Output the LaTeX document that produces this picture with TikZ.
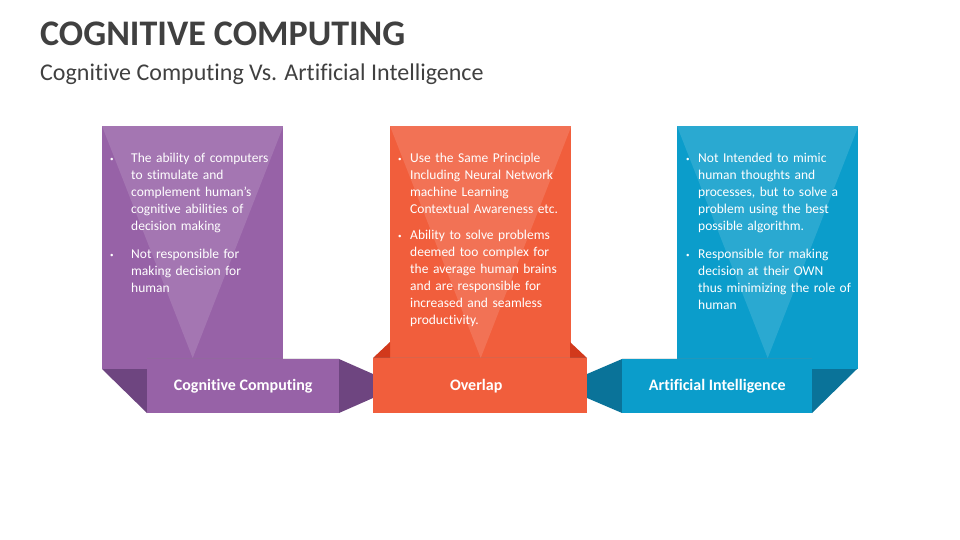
\documentclass[tikz,border=0pt]{standalone}
\usepackage{fontspec}
\setmainfont{Carlito}[Ligatures=NoCommon]
\usetikzlibrary{positioning, calc, shadows}

\definecolor{ccpurple}{HTML}{9762A7}
\definecolor{ccdark}{HTML}{6E4580}
\definecolor{ovorange}{HTML}{F15E3C}
\definecolor{ovdark}{HTML}{D2391C}
\definecolor{aiblue}{HTML}{0B9DCB}
\definecolor{aidark}{HTML}{0A7399}
\definecolor{titlegray}{HTML}{404040}

% bullet, then a block of lines
\newcommand{\bitem}[2][21pt]{\noindent\makebox[#1][l]{\raisebox{1pt}{\scriptsize\textbullet}}\parbox[t]{160pt}{\raggedright #2}\par}

\begin{document}
\begin{tikzpicture}[
  x=1pt, y=-1pt,
  panel/.style={rectangle, minimum width=181pt, minimum height=243pt, inner sep=0pt, anchor=north west},
  tag/.style={rectangle, minimum height=54pt, inner sep=0pt, anchor=north west, text=white,
               font=\fontsize{16}{17}\selectfont\bfseries,
               drop shadow={shadow xshift=0pt, shadow yshift=1.5pt, opacity=0.2}},
  body/.style={text=white, anchor=north west, inner sep=0pt, text width=185pt, align=left,
               font=\fontsize{13.5}{17}\selectfont}
]

\useasboundingbox (0,0) rectangle (960,540);

% Title
\node[anchor=base west, inner sep=0pt, text=titlegray, font=\fontsize{36}{40}\selectfont\bfseries]
  (title) at (40,46) {COGNITIVE COMPUTING};
\node[anchor=base west, inner sep=0pt, text=titlegray, font=\fontsize{24}{26}\selectfont]
  (subtitle) at (40,81) {Cognitive Computing Vs. Artificial Intelligence};

% Panels
\node[panel, fill=ccpurple] (ccpanel) at (102,126) {};
\node[panel, fill=ovorange, minimum height=232pt] (ovpanel) at (390,126) {};
\node[panel, fill=aiblue] (aipanel) at (677,126) {};

% Light inverted triangles
\foreach \p in {ccpanel, ovpanel, aipanel} {
  \fill[white, opacity=0.13] (\p.north west) -- (\p.north east) -- ($(\p.north)+(0,232)$) -- cycle;
}

% Folds
\fill[ccdark] (102,369) -- (147,369) -- (147,413) -- cycle;
\fill[aidark] (857,369) -- (812,369) -- (812,413) -- cycle;
\fill[ovdark] (373,358) -- (390,342) -- (390,358) -- cycle;
\fill[ovdark] (587,358) -- (570,342) -- (570,358) -- cycle;

% Connecting trapezoids
\fill[ccdark] (339,359) -- (373,374) -- (373,398) -- (339,413) -- cycle;
\fill[aidark] (622,359) -- (587,374) -- (587,398) -- (622,413) -- cycle;

% Labels
\node[tag, fill=ccpurple, minimum width=192pt] (cclabel) at (147,359) {Cognitive Computing};
\node[tag, fill=ovorange, minimum width=214pt, minimum height=55pt] (ovlabel) at (373,358) {\hspace{-8pt}Overlap};
\node[tag, fill=aiblue, minimum width=190pt] (ailabel) at (622,359) {Artificial Intelligence};

% Panel texts
\node[body] (cctext) at (110,153) {%
  \bitem{The ability of computers\\to stimulate and\\complement human's\\cognitive abilities of\\decision making}
  \vspace{15pt}
  \bitem{Not responsible for\\making decision for\\human}};
\node[body] (ovtext) at (398,153) {%
  \bitem[12pt]{Use the Same Principle\\Including Neural Network\\machine Learning\\Contextual Awareness etc.}
  \vspace{15pt}
  \bitem[12pt]{Ability to solve problems\\deemed too complex for\\the average human brains\\and are responsible for\\increased and seamless\\productivity.}};
\node[body] (aitext) at (686,153) {%
  \bitem[12pt]{Not Intended to mimic\\human thoughts and\\processes, but to solve a\\problem using the best\\possible algorithm.}
  \vspace{15pt}
  \bitem[12pt]{Responsible for making\\decision at their OWN\\thus minimizing the role of\\human}};

\end{tikzpicture}
\end{document}
